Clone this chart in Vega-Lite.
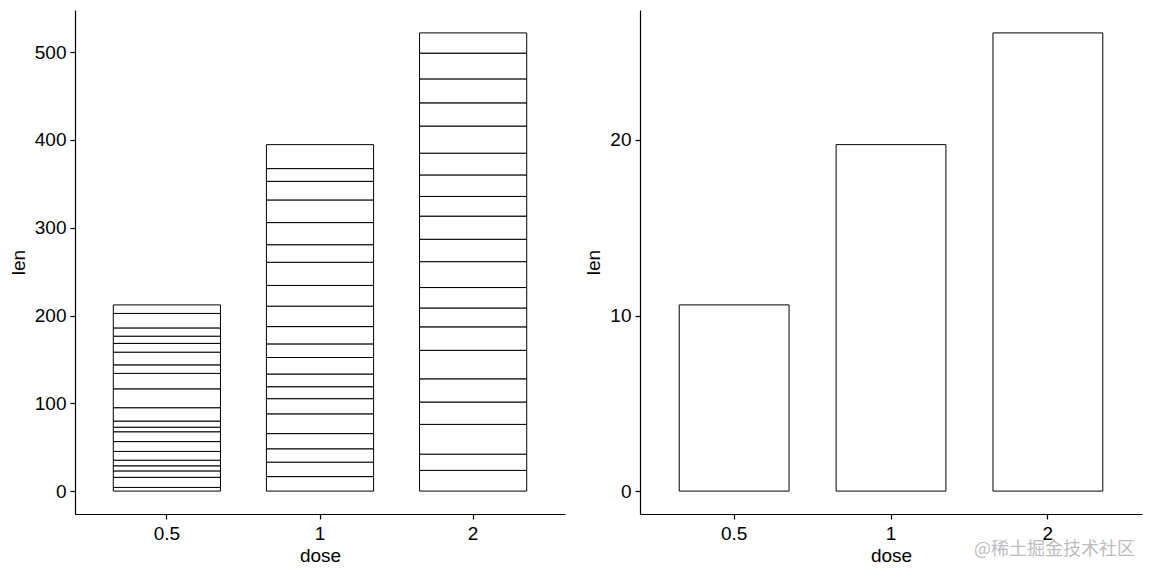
{
  "$schema": "https://vega.github.io/schema/vega-lite/v6.json",
  "background": "white",
  "padding": {"left": 9, "top": 10, "right": 5, "bottom": 5},
  "spacing": 19,
  "title": {
    "text": "@稀土掘金技术社区",
    "orient": "bottom",
    "anchor": "end",
    "offset": -24,
    "dx": -7,
    "font": "Noto Sans CJK SC",
    "fontSize": 18,
    "fontWeight": "normal",
    "color": "#bdbdbd"
  },
  "data": {
    "values": [
      {"idx": 1, "len": 4.2, "supp": "VC", "dose": "0.5"},
      {"idx": 2, "len": 11.5, "supp": "VC", "dose": "0.5"},
      {"idx": 3, "len": 7.3, "supp": "VC", "dose": "0.5"},
      {"idx": 4, "len": 5.8, "supp": "VC", "dose": "0.5"},
      {"idx": 5, "len": 6.4, "supp": "VC", "dose": "0.5"},
      {"idx": 6, "len": 10.0, "supp": "VC", "dose": "0.5"},
      {"idx": 7, "len": 11.2, "supp": "VC", "dose": "0.5"},
      {"idx": 8, "len": 11.2, "supp": "VC", "dose": "0.5"},
      {"idx": 9, "len": 5.2, "supp": "VC", "dose": "0.5"},
      {"idx": 10, "len": 7.0, "supp": "VC", "dose": "0.5"},
      {"idx": 11, "len": 16.5, "supp": "VC", "dose": "1"},
      {"idx": 12, "len": 16.5, "supp": "VC", "dose": "1"},
      {"idx": 13, "len": 15.2, "supp": "VC", "dose": "1"},
      {"idx": 14, "len": 17.3, "supp": "VC", "dose": "1"},
      {"idx": 15, "len": 22.5, "supp": "VC", "dose": "1"},
      {"idx": 16, "len": 17.3, "supp": "VC", "dose": "1"},
      {"idx": 17, "len": 13.6, "supp": "VC", "dose": "1"},
      {"idx": 18, "len": 14.5, "supp": "VC", "dose": "1"},
      {"idx": 19, "len": 18.8, "supp": "VC", "dose": "1"},
      {"idx": 20, "len": 15.5, "supp": "VC", "dose": "1"},
      {"idx": 21, "len": 23.6, "supp": "VC", "dose": "2"},
      {"idx": 22, "len": 18.5, "supp": "VC", "dose": "2"},
      {"idx": 23, "len": 33.9, "supp": "VC", "dose": "2"},
      {"idx": 24, "len": 25.5, "supp": "VC", "dose": "2"},
      {"idx": 25, "len": 26.4, "supp": "VC", "dose": "2"},
      {"idx": 26, "len": 32.5, "supp": "VC", "dose": "2"},
      {"idx": 27, "len": 26.7, "supp": "VC", "dose": "2"},
      {"idx": 28, "len": 21.5, "supp": "VC", "dose": "2"},
      {"idx": 29, "len": 23.3, "supp": "VC", "dose": "2"},
      {"idx": 30, "len": 29.5, "supp": "VC", "dose": "2"},
      {"idx": 31, "len": 15.2, "supp": "OJ", "dose": "0.5"},
      {"idx": 32, "len": 21.5, "supp": "OJ", "dose": "0.5"},
      {"idx": 33, "len": 17.6, "supp": "OJ", "dose": "0.5"},
      {"idx": 34, "len": 9.7, "supp": "OJ", "dose": "0.5"},
      {"idx": 35, "len": 14.5, "supp": "OJ", "dose": "0.5"},
      {"idx": 36, "len": 10.0, "supp": "OJ", "dose": "0.5"},
      {"idx": 37, "len": 8.2, "supp": "OJ", "dose": "0.5"},
      {"idx": 38, "len": 9.4, "supp": "OJ", "dose": "0.5"},
      {"idx": 39, "len": 16.5, "supp": "OJ", "dose": "0.5"},
      {"idx": 40, "len": 9.7, "supp": "OJ", "dose": "0.5"},
      {"idx": 41, "len": 19.7, "supp": "OJ", "dose": "1"},
      {"idx": 42, "len": 23.3, "supp": "OJ", "dose": "1"},
      {"idx": 43, "len": 23.6, "supp": "OJ", "dose": "1"},
      {"idx": 44, "len": 26.4, "supp": "OJ", "dose": "1"},
      {"idx": 45, "len": 20.0, "supp": "OJ", "dose": "1"},
      {"idx": 46, "len": 25.2, "supp": "OJ", "dose": "1"},
      {"idx": 47, "len": 25.8, "supp": "OJ", "dose": "1"},
      {"idx": 48, "len": 21.2, "supp": "OJ", "dose": "1"},
      {"idx": 49, "len": 14.5, "supp": "OJ", "dose": "1"},
      {"idx": 50, "len": 27.3, "supp": "OJ", "dose": "1"},
      {"idx": 51, "len": 25.5, "supp": "OJ", "dose": "2"},
      {"idx": 52, "len": 26.4, "supp": "OJ", "dose": "2"},
      {"idx": 53, "len": 22.4, "supp": "OJ", "dose": "2"},
      {"idx": 54, "len": 24.5, "supp": "OJ", "dose": "2"},
      {"idx": 55, "len": 24.8, "supp": "OJ", "dose": "2"},
      {"idx": 56, "len": 30.9, "supp": "OJ", "dose": "2"},
      {"idx": 57, "len": 26.4, "supp": "OJ", "dose": "2"},
      {"idx": 58, "len": 27.3, "supp": "OJ", "dose": "2"},
      {"idx": 59, "len": 29.4, "supp": "OJ", "dose": "2"},
      {"idx": 60, "len": 23.0, "supp": "OJ", "dose": "2"}
    ]
  },
  "hconcat": [
    {
      "width": 490,
      "height": 504,
      "mark": {"type": "bar", "fill": "white", "stroke": "black", "strokeWidth": 1},
      "encoding": {
        "x": {
          "field": "dose",
          "type": "nominal",
          "title": "dose",
          "sort": ["0.5", "1", "2"],
          "scale": {"paddingInner": 0.3, "paddingOuter": 0.25},
          "axis": {"labelAngle": 0}
        },
        "y": {
          "field": "len",
          "type": "quantitative",
          "aggregate": "sum",
          "title": "len",
          "stack": "zero",
          "scale": {"domain": [-26.1, 548.1], "nice": false, "zero": false},
          "axis": {"values": [0, 100, 200, 300, 400, 500]}
        },
        "detail": {"field": "idx", "type": "ordinal"},
        "order": {"field": "idx", "type": "quantitative", "sort": "ascending"}
      }
    },
    {
      "width": 502,
      "height": 504,
      "mark": {"type": "bar", "fill": "white", "stroke": "black", "strokeWidth": 1},
      "encoding": {
        "x": {
          "field": "dose",
          "type": "nominal",
          "title": "dose",
          "sort": ["0.5", "1", "2"],
          "scale": {"paddingInner": 0.3, "paddingOuter": 0.25},
          "axis": {"labelAngle": 0}
        },
        "y": {
          "field": "len",
          "type": "quantitative",
          "aggregate": "mean",
          "title": "len",
          "scale": {"domain": [-1.305, 27.405], "nice": false, "zero": false},
          "axis": {"values": [0, 10, 20]}
        }
      }
    }
  ],
  "config": {
    "view": {"stroke": null},
    "font": "Liberation Sans",
    "axis": {
      "grid": false,
      "domainColor": "black",
      "domainWidth": 1.2,
      "tickColor": "black",
      "tickWidth": 1.2,
      "tickSize": 5,
      "labelFont": "Liberation Sans",
      "labelFontSize": 19,
      "labelColor": "black",
      "labelPadding": 4,
      "titleFont": "Liberation Sans",
      "titleFontSize": 19,
      "titleFontWeight": "normal",
      "titleColor": "black"
    },
    "axisX": {"titlePadding": 3, "labelPadding": 5},
    "axisY": {"titlePadding": 6}
  }
}
